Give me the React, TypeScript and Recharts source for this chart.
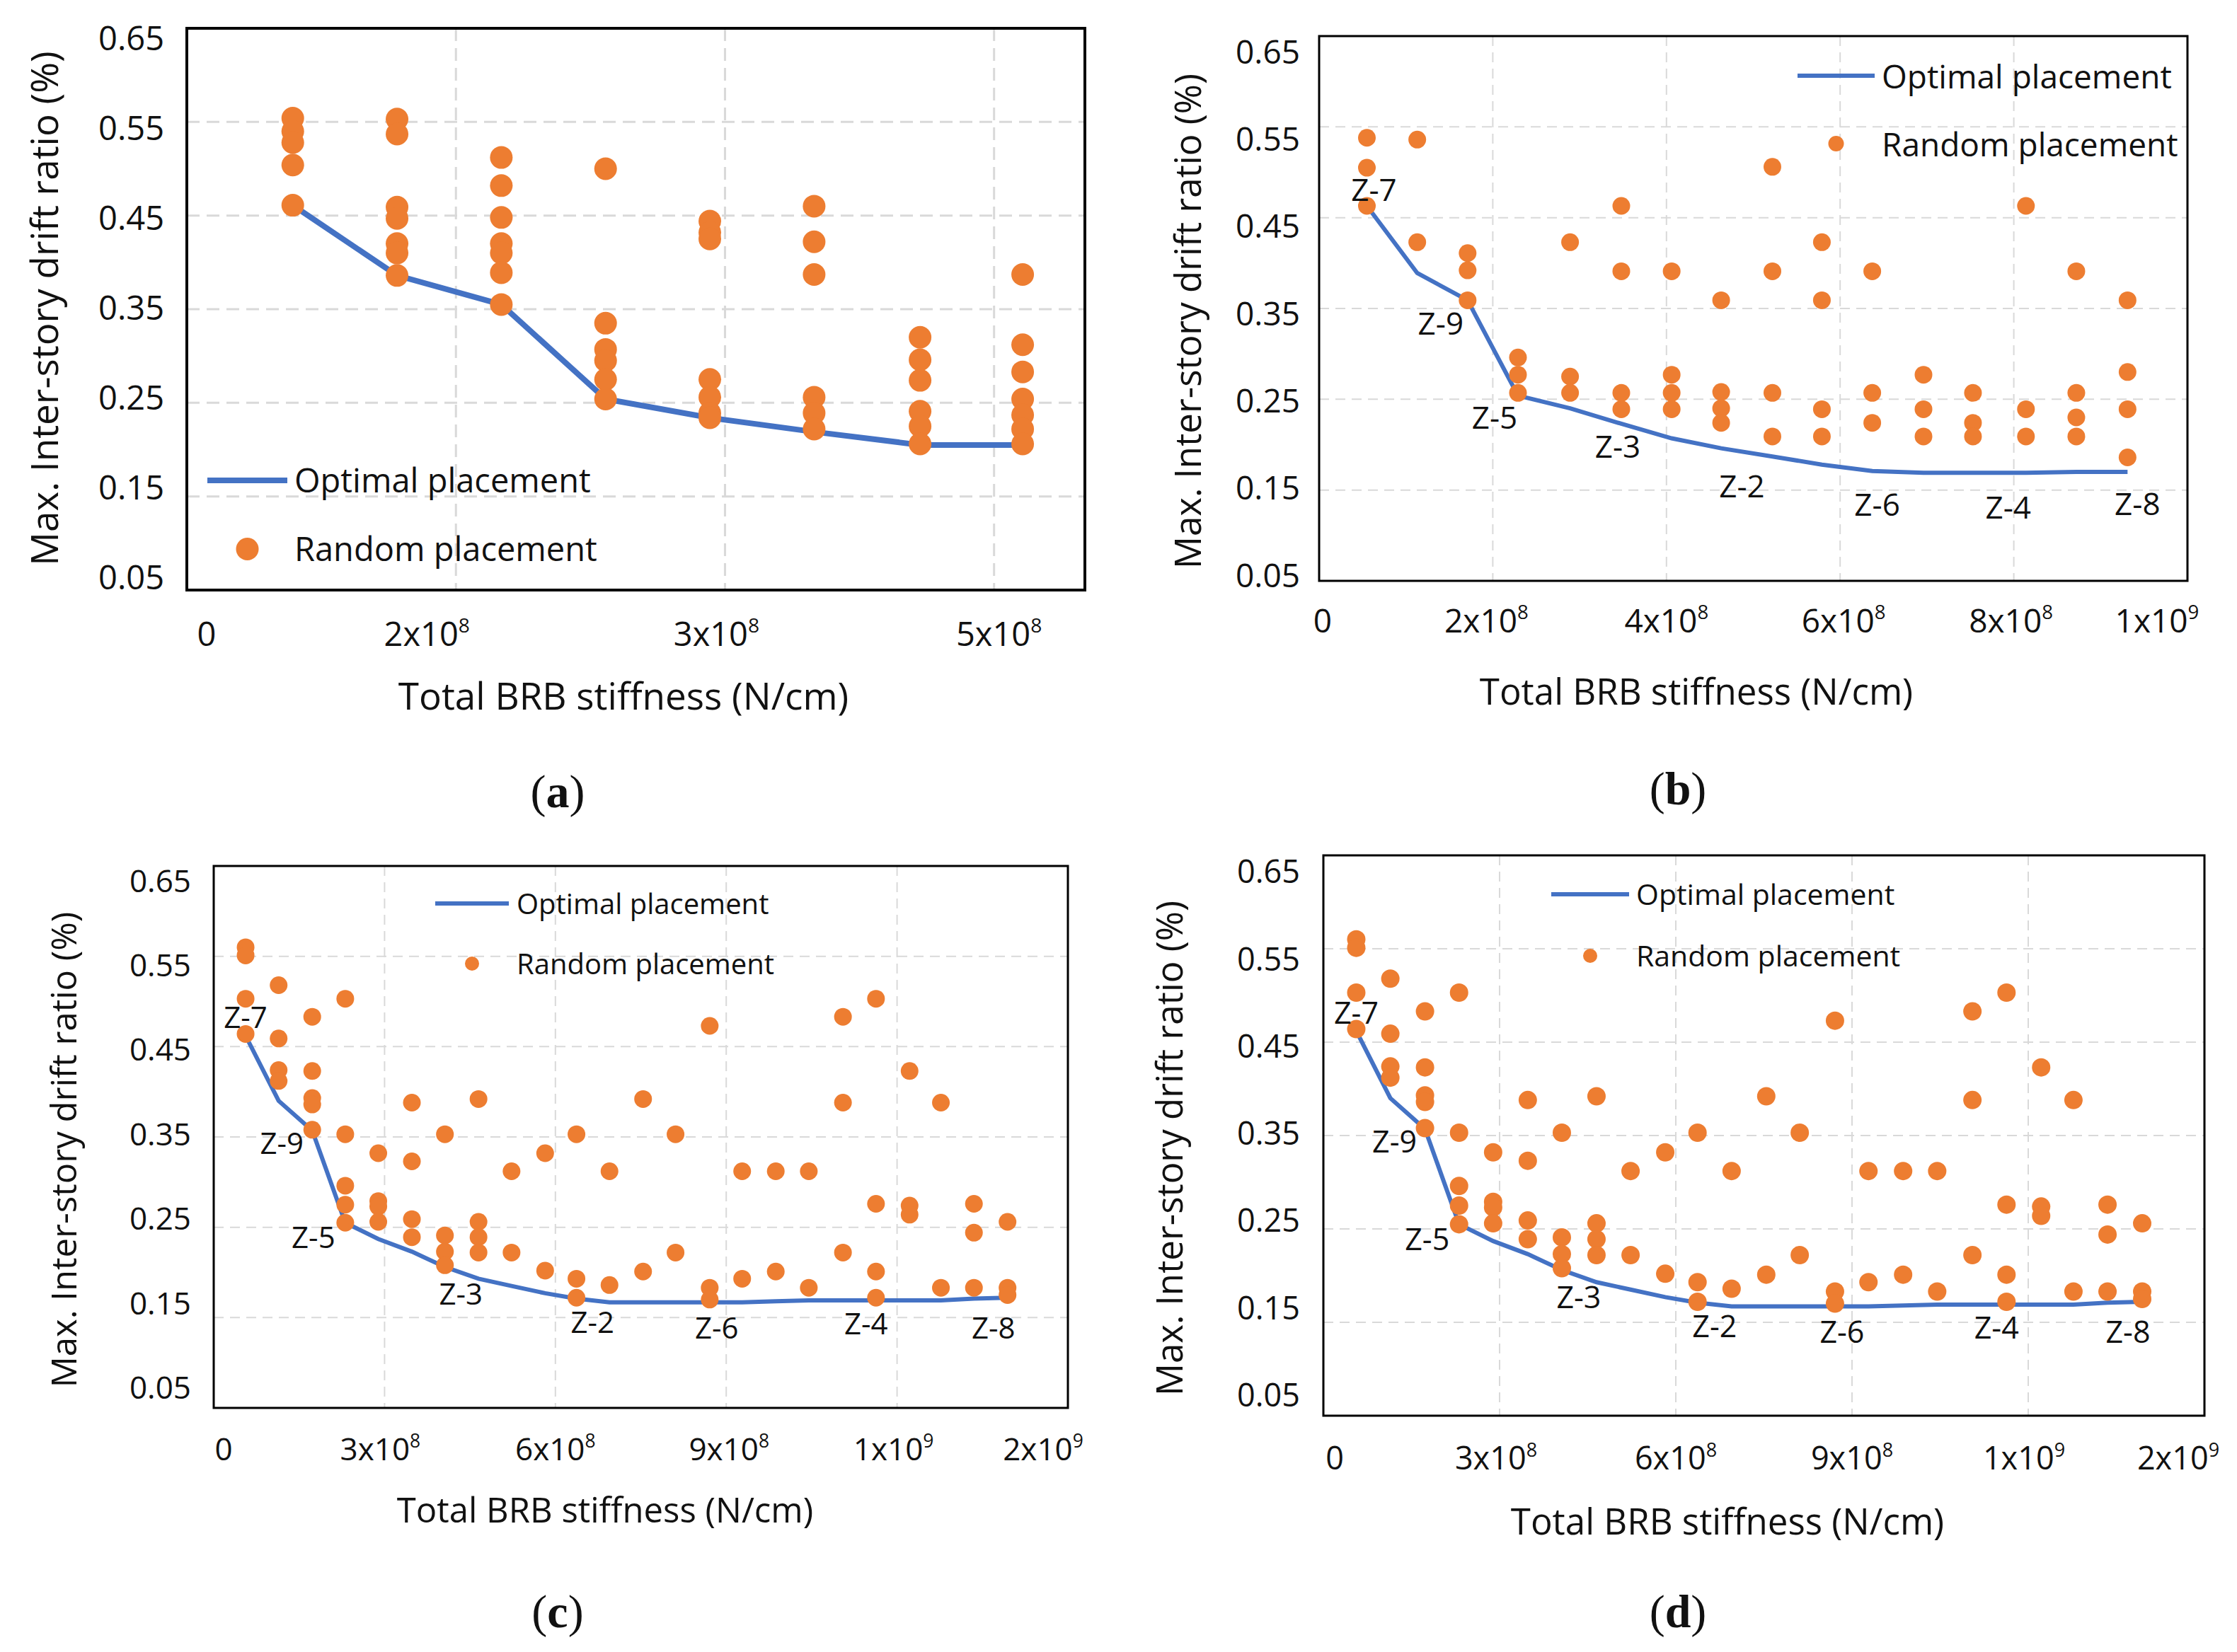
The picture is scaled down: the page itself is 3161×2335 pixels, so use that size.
import React from "react";
import {
    ScatterChart,
    Scatter,
    XAxis,
    YAxis,
    CartesianGrid,
    ReferenceArea,
    Legend,
} from "recharts";

const ORANGE = "#ED7D31";
const BLUE = "#4472C4";
const FONT = "'Open Sans', 'Noto Sans', sans-serif";

// Drift ratio axis, shared by all four panels
const driftTicks = [0.05, 0.15, 0.25, 0.35, 0.45, 0.55, 0.65];

// (a) stiffness in units of 1e8 N/cm
const stiffnessA = [0.63, 1.25, 1.87, 2.49, 3.11, 3.73, 4.36, 4.97];
const randomA = [
    [0.554, 0.540, 0.528, 0.504, 0.461],
    [0.553, 0.537, 0.459, 0.447, 0.420, 0.410, 0.386],
    [0.512, 0.482, 0.448, 0.420, 0.410, 0.389, 0.355],
    [0.500, 0.335, 0.307, 0.295, 0.275, 0.254],
    [0.444, 0.432, 0.425, 0.275, 0.256, 0.239, 0.234],
    [0.460, 0.422, 0.387, 0.256, 0.239, 0.222],
    [0.320, 0.296, 0.274, 0.241, 0.225, 0.206],
    [0.387, 0.312, 0.283, 0.254, 0.237, 0.222, 0.206],
];
const optimalA = [0.461, 0.386, 0.355, 0.254, 0.234, 0.219, 0.205, 0.205];
const xTicksA = [0, 1.6, 3.2, 4.8];
const xLabelsA = [["0", ""], ["2x10", "8"], ["3x10", "8"], ["5x10", "8"]];

// (b)
const stiffnessB = [0.55, 1.13, 1.71, 2.29, 2.89, 3.48, 4.06, 4.63, 5.22, 5.79, 6.37, 6.96, 7.53, 8.14, 8.72, 9.31];
const randomB = [
    [0.538, 0.505, 0.463],
    [0.536, 0.423],
    [0.411, 0.392, 0.359],
    [0.296, 0.277, 0.257],
    [0.423, 0.275, 0.257],
    [0.463, 0.391, 0.257, 0.239],
    [0.391, 0.277, 0.257, 0.239],
    [0.359, 0.258, 0.240, 0.224],
    [0.506, 0.391, 0.257, 0.209],
    [0.423, 0.359, 0.239, 0.209],
    [0.391, 0.257, 0.224],
    [0.277, 0.239, 0.209],
    [0.257, 0.224, 0.209],
    [0.463, 0.239, 0.209],
    [0.391, 0.257, 0.230, 0.209],
    [0.359, 0.280, 0.239, 0.186],
];
const optimalB = [0.463, 0.389, 0.359, 0.254, 0.240, 0.223, 0.207, 0.196, 0.187, 0.178, 0.171, 0.169, 0.169, 0.169, 0.170, 0.170];
const zonesB = ["Z-7", "", "Z-9", "Z-5", "", "Z-3", "", "", "Z-2", "", "Z-6", "", "", "Z-4", "", "Z-8"];
const xTicksB = [0, 2, 4, 6, 8, 10];
const xLabelsB = [["0", ""], ["2x10", "8"], ["4x10", "8"], ["6x10", "8"], ["8x10", "8"], ["1x10", "9"]];

// (c) and (d) show the same results
const stiffnessC = [0.56, 1.14, 1.73, 2.31, 2.89, 3.48, 4.06, 4.65, 5.23, 5.82, 6.37, 6.95, 7.54, 8.11, 8.71, 9.28, 9.87, 10.45, 11.05, 11.63, 12.22, 12.77, 13.35, 13.94];
const randomC = [
    [0.560, 0.551, 0.503, 0.464],
    [0.518, 0.459, 0.424, 0.412],
    [0.483, 0.423, 0.393, 0.386, 0.358],
    [0.503, 0.353, 0.296, 0.275, 0.255],
    [0.332, 0.279, 0.273, 0.256],
    [0.388, 0.323, 0.259, 0.239],
    [0.353, 0.241, 0.223, 0.208],
    [0.392, 0.256, 0.239, 0.222],
    [0.312, 0.222],
    [0.332, 0.202],
    [0.353, 0.193, 0.172],
    [0.312, 0.186],
    [0.392, 0.201],
    [0.353, 0.222],
    [0.473, 0.183, 0.170],
    [0.312, 0.193],
    [0.312, 0.201],
    [0.312, 0.183],
    [0.483, 0.388, 0.222],
    [0.503, 0.276, 0.201, 0.172],
    [0.423, 0.274, 0.264],
    [0.388, 0.183],
    [0.276, 0.244, 0.183],
    [0.256, 0.183, 0.175],
];
const optimalC = [0.462, 0.390, 0.357, 0.255, 0.237, 0.223, 0.206, 0.193, 0.185, 0.177, 0.171, 0.167, 0.167, 0.167, 0.167, 0.167, 0.168, 0.169, 0.169, 0.169, 0.169, 0.169, 0.171, 0.172];
const zonesC = ["Z-7", "", "Z-9", "Z-5", "", "", "", "Z-3", "", "", "", "Z-2", "", "", "Z-6", "", "", "", "", "Z-4", "", "", "", "Z-8"];
const xTicksC = [0, 3, 6, 9, 12, 15];
const xLabelsC = [["0", ""], ["3x10", "8"], ["6x10", "8"], ["9x10", "8"], ["1x10", "9"], ["2x10", "9"]];

type Pt = { x: number; y: number; zone?: string };

const randomPoints = (xs: number[], cols: number[][]): Pt[] =>
    xs.flatMap((x, i) => cols[i].map((y) => ({ x, y })));
const optimalPoints = (xs: number[], ys: number[], zones?: string[]): Pt[] =>
    xs.map((x, i) => ({ x, y: ys[i], zone: zones ? zones[i] : "" }));

type Spec = {
    id: string;
    box: { left: number; top: number; width: number; height: number };
    plot: { left: number; top: number; right: number; bottom: number };
    xMax: number;
    xTicks: number[];
    xLabels: string[][];
    nudge: number[];
    ySqueeze: number;
    yShift: number;
    random: Pt[];
    optimal: Pt[];
    hasZones: boolean;
    zoneShift: Record<string, [number, number]>;
    tickFs: number;
    titleFs: number;
    legendFs: number;
    zoneFs: number;
    dotR: number;
    legendDotR: number;
    lineW: number;
    borderW: number;
    gridW: number;
    gridDash: string;
    yGap: number;
    xGap: number;
    legend: { left: number; top: number; rowH: number; iconW: number; gap: number };
    xTitle: [number, number];
    yTitle: [number, number];
    caption: [number, number];
};

const shiftB: Record<string, [number, number]> = {
    "Z-7": [10, -23], "Z-9": [-38, 33], "Z-5": [-33, 31], "Z-3": [-5, 32],
    "Z-2": [-43, 42], "Z-6": [7, 47], "Z-4": [-25, 49], "Z-8": [14, 45],
};
const shiftC: Record<string, [number, number]> = {
    "Z-7": [0, -26], "Z-9": [-43, 18], "Z-5": [-45, 21], "Z-3": [-25, 21],
    "Z-2": [-24, 28], "Z-6": [10, 36], "Z-4": [-14, 33], "Z-8": [-20, 43],
};

const panels: Spec[] = [
    {
        id: "a",
        box: { left: 0, top: 0, width: 1580, height: 940 },
        plot: { left: 264, top: 40, right: 1533, bottom: 834 },
        xMax: 5.34, xTicks: xTicksA, xLabels: xLabelsA, nudge: [28, -41, -12, 7],
        ySqueeze: 0.04, yShift: -2,
        random: randomPoints(stiffnessA, randomA), optimal: optimalPoints(stiffnessA, optimalA),
        hasZones: false, zoneShift: {},
        tickFs: 47, titleFs: 53, legendFs: 47, zoneFs: 44,
        dotR: 16, legendDotR: 16, lineW: 8, borderW: 4, gridW: 3, gridDash: "18 10",
        yGap: 32, xGap: 62,
        legend: { left: 293, top: 630, rowH: 97, iconW: 113, gap: 10 },
        xTitle: [881, 982], yTitle: [61, 436], caption: [788, 1119],
    },
    {
        id: "b",
        box: { left: 1580, top: 0, width: 1581, height: 940 },
        plot: { left: 1864, top: 51, right: 3091, bottom: 821 },
        xMax: 10, xTicks: xTicksB, xLabels: xLabelsB, nudge: [5, -9, 0, 5, -4, -43],
        ySqueeze: 0.039, yShift: 7,
        random: randomPoints(stiffnessB, randomB), optimal: optimalPoints(stiffnessB, optimalB, zonesB),
        hasZones: true, zoneShift: shiftB,
        tickFs: 46, titleFs: 51, legendFs: 46, zoneFs: 44,
        dotR: 12.5, legendDotR: 11, lineW: 6, borderW: 3, gridW: 2, gridDash: "14 9",
        yGap: 27, xGap: 56,
        legend: { left: 960, top: 59, rowH: 96, iconW: 109, gap: 10 },
        xTitle: [2397, 976], yTitle: [1677, 454], caption: [2371, 1115],
    },
    {
        id: "c",
        box: { left: 0, top: 1150, width: 1580, height: 950 },
        plot: { left: 302, top: 1224, right: 1509, bottom: 1990 },
        xMax: 15, xTicks: xTicksC, xLabels: xLabelsC, nudge: [14, -6, 0, 4, -5, -35],
        ySqueeze: 0.065, yShift: -4,
        random: randomPoints(stiffnessC, randomC), optimal: optimalPoints(stiffnessC, optimalC, zonesC),
        hasZones: true, zoneShift: shiftC,
        tickFs: 44, titleFs: 49, legendFs: 40, zoneFs: 42,
        dotR: 12.5, legendDotR: 10, lineW: 6, borderW: 3, gridW: 2, gridDash: "14 9",
        yGap: 32, xGap: 58,
        legend: { left: 615, top: 84, rowH: 85, iconW: 104, gap: 11 },
        xTitle: [855, 2133], yTitle: [89, 1625], caption: [788, 2278],
    },
    {
        id: "d",
        box: { left: 1580, top: 1150, width: 1581, height: 950 },
        plot: { left: 1870, top: 1209, right: 3115, bottom: 2001 },
        xMax: 15, xTicks: xTicksC, xLabels: xLabelsC, nudge: [16, -5, 0, 0, -6, -37],
        ySqueeze: 0.066, yShift: -3,
        random: randomPoints(stiffnessC, randomC), optimal: optimalPoints(stiffnessC, optimalC, zonesC),
        hasZones: true, zoneShift: shiftC,
        tickFs: 45, titleFs: 51, legendFs: 41, zoneFs: 43,
        dotR: 13, legendDotR: 10, lineW: 6, borderW: 3, gridW: 2, gridDash: "14 9",
        yGap: 33, xGap: 60,
        legend: { left: 612, top: 70, rowH: 87, iconW: 110, gap: 10 },
        xTitle: [2441, 2149], yTitle: [1651, 1623], caption: [2371, 2278],
    },
];

// x tick with a raised exponent ("2x10" + superscript "8")
function StiffnessTick(props: any) {
    const { x, y, payload, spec } = props;
    const s: Spec = spec;
    const i = s.xTicks.findIndex((t) => Math.abs(t - payload.value) < 1e-6);
    if (i < 0) return null;
    const [base, exp] = s.xLabels[i];
    return (
        <text x={x + (s.nudge[i] || 0)} y={y} textAnchor="middle" fontSize={s.tickFs} fontFamily={FONT} fill="#111">
            <tspan dy="0.36em">{base}</tspan>
            {exp ? (
                <tspan dy={-0.4 * s.tickFs} fontSize={s.tickFs * 0.6}>
                    {exp}
                </tspan>
            ) : null}
        </text>
    );
}

// drift ratio labels sit on a slightly tighter pitch than the gridlines
function DriftTick(props: any) {
    const { x, y, payload, spec } = props;
    const s: Spec = spec;
    const mid = (s.plot.top + s.plot.bottom) / 2 - s.box.top;
    const ty = y + (mid - y) * s.ySqueeze + s.yShift;
    return (
        <text x={x} y={ty} dy="0.36em" textAnchor="end" fontSize={s.tickFs} fontFamily={FONT} fill="#111">
            {Number(payload.value).toFixed(2)}
        </text>
    );
}

function LegendBox({ s }: { s: Spec }) {
    const { rowH, iconW, gap } = s.legend;
    const row: React.CSSProperties = { display: "flex", alignItems: "center", height: rowH };
    const txt: React.CSSProperties = { marginLeft: gap, whiteSpace: "nowrap", lineHeight: 1 };
    return (
        <div style={{ fontFamily: FONT, fontSize: s.legendFs, color: "#111" }}>
            <div style={row}>
                <svg width={iconW} height={20}>
                    <line x1={0} x2={iconW} y1={10} y2={10} stroke={BLUE} strokeWidth={s.lineW} />
                </svg>
                <span style={txt}>Optimal placement</span>
            </div>
            <div style={row}>
                <svg width={iconW} height={s.legendDotR * 2 + 2}>
                    <circle cx={iconW / 2} cy={s.legendDotR + 1} r={s.legendDotR} fill={ORANGE} />
                </svg>
                <span style={txt}>Random placement</span>
            </div>
        </div>
    );
}

function Panel({ s }: { s: Spec }) {
    const { box, plot } = s;
    const dot = (p: any) => <circle cx={p.cx} cy={p.cy} r={s.dotR} fill={ORANGE} />;
    const zoneLabel = (p: any) => {
        const z = p.payload && p.payload.zone;
        if (!z) return <g />;
        const [dx, dy] = s.zoneShift[z] || [0, 0];
        return (
            <text x={p.cx + dx} y={p.cy + dy} dy="0.36em" textAnchor="middle" fontSize={s.zoneFs} fontFamily={FONT} fill="#111">
                {z}
            </text>
        );
    };
    const titleStyle: React.CSSProperties = {
        position: "absolute",
        fontFamily: FONT,
        fontSize: s.titleFs,
        color: "#111",
        whiteSpace: "nowrap",
        lineHeight: 1,
    };
    return (
        <>
            <div style={{ position: "absolute", left: box.left, top: box.top }}>
                <ScatterChart
                    width={box.width}
                    height={box.height}
                    margin={{ top: plot.top - box.top, right: box.left + box.width - plot.right, bottom: 0, left: 0 }}
                >
                    <CartesianGrid stroke="#D9D9D9" strokeDasharray={s.gridDash} strokeWidth={s.gridW} />
                    <XAxis
                        type="number"
                        dataKey="x"
                        domain={[0, s.xMax]}
                        ticks={s.xTicks}
                        interval={0}
                        allowDataOverflow
                        axisLine={false}
                        tickLine={false}
                        tickSize={0}
                        tickMargin={s.xGap}
                        height={box.top + box.height - plot.bottom}
                        tick={<StiffnessTick spec={s} />}
                    />
                    <YAxis
                        type="number"
                        dataKey="y"
                        domain={[0.05, 0.65]}
                        ticks={driftTicks}
                        interval={0}
                        allowDataOverflow
                        axisLine={false}
                        tickLine={false}
                        tickSize={0}
                        tickMargin={s.yGap}
                        width={plot.left - box.left}
                        tick={<DriftTick spec={s} />}
                    />
                    <ReferenceArea
                        x1={0}
                        x2={s.xMax}
                        y1={0.05}
                        y2={0.65}
                        fill="none"
                        stroke="#000"
                        strokeWidth={s.borderW}
                        ifOverflow="visible"
                    />
                    <Scatter
                        name="Optimal placement"
                        data={s.optimal}
                        fill={BLUE}
                        line={{ stroke: BLUE, strokeWidth: s.lineW }}
                        lineType="joint"
                        shape={() => <g />}
                        isAnimationActive={false}
                    />
                    <Scatter
                        name="Random placement"
                        data={s.random}
                        fill={ORANGE}
                        shape={dot}
                        isAnimationActive={false}
                    />
                    {s.hasZones ? (
                        <Scatter
                            name="zones"
                            data={s.optimal}
                            legendType="none"
                            shape={zoneLabel}
                            isAnimationActive={false}
                        />
                    ) : null}
                    <Legend
                        layout="horizontal"
                        verticalAlign="middle"
                        align="center"
                        wrapperStyle={{ left: s.legend.left, top: s.legend.top, width: "auto", height: "auto" }}
                        content={() => <LegendBox s={s} />}
                    />
                </ScatterChart>
            </div>
            <div style={{ ...titleStyle, left: s.xTitle[0], top: s.xTitle[1], transform: "translate(-50%, -50%)" }}>
                Total BRB stiffness (N/cm)
            </div>
            <div
                style={{
                    ...titleStyle,
                    left: s.yTitle[0],
                    top: s.yTitle[1],
                    transform: "translate(-50%, -50%) rotate(-90deg)",
                }}
            >
                Max. Inter-story drift ratio (%)
            </div>
            <div
                style={{
                    position: "absolute",
                    left: s.caption[0],
                    top: s.caption[1],
                    transform: "translate(-50%, -50%)",
                    fontFamily: "'Liberation Serif', 'DejaVu Serif', serif",
                    fontSize: 66,
                    lineHeight: 1,
                    color: "#111",
                }}
            >
                (<b>{s.id}</b>)
            </div>
        </>
    );
}

export default function App() {
    return (
        <div style={{ position: "relative", width: 3161, height: 2335, background: "#fff", overflow: "hidden" }}>
            <style>{"body{margin:0}"}</style>
            {panels.map((s) => (
                <Panel key={s.id} s={s} />
            ))}
        </div>
    );
}
